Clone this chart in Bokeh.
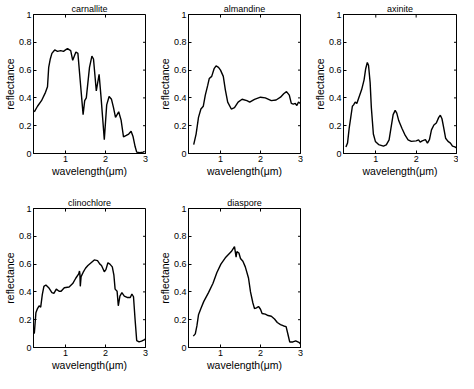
from bokeh.plotting import figure
from bokeh.models import Range1d, FixedTicker
from bokeh.layouts import column, row
from bokeh.embed import file_html
from bokeh.resources import INLINE

# ---- data ----
carnallite_wl = [0.22, 0.3, 0.4, 0.5, 0.55, 0.58, 0.62, 0.66, 0.73, 0.8, 0.88, 0.95, 1.0, 1.05, 1.1, 1.13,
                 1.18, 1.26, 1.31, 1.36, 1.44, 1.48, 1.52, 1.6, 1.66, 1.7, 1.77, 1.84, 1.89, 1.97, 2.03, 2.09,
                 2.15, 2.2, 2.25, 2.33, 2.39, 2.45, 2.52, 2.58, 2.64, 2.69, 2.74, 2.78, 2.86, 2.94, 2.98]
carnallite_refl = [0.30, 0.34, 0.38, 0.44, 0.48, 0.62, 0.68, 0.72, 0.745, 0.735, 0.74, 0.735, 0.745, 0.755, 0.745, 0.74,
                   0.67, 0.73, 0.72, 0.55, 0.28, 0.38, 0.40, 0.62, 0.70, 0.68, 0.45, 0.57, 0.40, 0.10, 0.35, 0.41,
                   0.39, 0.33, 0.26, 0.30, 0.24, 0.12, 0.13, 0.14, 0.16, 0.12, 0.05, 0.01, 0.005, 0.01, 0.015]

almandine_wl = [0.33, 0.39, 0.45, 0.51, 0.57, 0.62, 0.68, 0.72, 0.78, 0.84, 0.89, 0.95, 1.0, 1.07, 1.12, 1.18,
                1.27, 1.35, 1.44, 1.54, 1.66, 1.73, 1.85, 2.0, 2.12, 2.27, 2.39, 2.5, 2.58, 2.65, 2.72, 2.77,
                2.82, 2.87, 2.91, 2.95, 3.0]
almandine_refl = [0.064, 0.14, 0.26, 0.32, 0.34, 0.42, 0.49, 0.54, 0.555, 0.61, 0.63, 0.62, 0.60, 0.555, 0.46, 0.37,
                  0.32, 0.33, 0.37, 0.39, 0.38, 0.37, 0.39, 0.405, 0.40, 0.38, 0.385, 0.405, 0.43, 0.445, 0.42, 0.36,
                  0.355, 0.36, 0.345, 0.37, 0.36]

axinite_wl = [0.26, 0.30, 0.34, 0.38, 0.42, 0.45, 0.49, 0.53, 0.59, 0.65, 0.71, 0.75, 0.79, 0.82, 0.86, 0.89,
              0.94, 0.99, 1.07, 1.19, 1.26, 1.33, 1.38, 1.43, 1.48, 1.52, 1.57, 1.65, 1.73, 1.8, 1.88, 2.0,
              2.06, 2.1, 2.15, 2.23, 2.28, 2.33, 2.38, 2.44, 2.5, 2.56, 2.6, 2.64, 2.68, 2.73, 2.79, 2.85,
              2.9, 2.96, 3.0]
axinite_refl = [0.046, 0.075, 0.18, 0.26, 0.34, 0.35, 0.37, 0.36, 0.41, 0.46, 0.53, 0.61, 0.655, 0.635, 0.51, 0.33,
                0.14, 0.087, 0.064, 0.053, 0.062, 0.098, 0.19, 0.28, 0.31, 0.29, 0.235, 0.18, 0.13, 0.098, 0.087, 0.091,
                0.098, 0.082, 0.091, 0.10, 0.075, 0.10, 0.17, 0.205, 0.22, 0.26, 0.275, 0.25, 0.19, 0.11, 0.087, 0.075,
                0.053, 0.048, 0.04]

clinochlore_wl = [0.22, 0.26, 0.30, 0.34, 0.38, 0.42, 0.46, 0.51, 0.58, 0.66, 0.71, 0.77, 0.84, 0.89, 0.97, 1.09,
                  1.18, 1.26, 1.33, 1.35, 1.36, 1.37, 1.39, 1.44, 1.5, 1.56, 1.64, 1.72, 1.8, 1.86, 1.9, 1.94,
                  1.97, 2.01, 2.06, 2.11, 2.17, 2.21, 2.24, 2.29, 2.32, 2.36, 2.41, 2.47, 2.54, 2.62, 2.66, 2.7,
                  2.74, 2.78, 2.84, 2.9, 2.98, 3.0]
clinochlore_refl = [0.10, 0.25, 0.28, 0.30, 0.29, 0.38, 0.44, 0.45, 0.43, 0.395, 0.39, 0.42, 0.405, 0.405, 0.43, 0.435,
                    0.46, 0.50, 0.53, 0.55, 0.53, 0.44, 0.51, 0.54, 0.57, 0.59, 0.61, 0.63, 0.625, 0.60, 0.59, 0.565,
                    0.545, 0.56, 0.61, 0.60, 0.58, 0.52, 0.42, 0.405, 0.30, 0.37, 0.395, 0.37, 0.36, 0.36, 0.385, 0.365,
                    0.20, 0.05, 0.041, 0.046, 0.057, 0.064]

diaspore_wl = [0.32, 0.37, 0.41, 0.45, 0.51, 0.58, 0.7, 0.81, 0.91, 1.01, 1.12, 1.27, 1.35, 1.39, 1.41, 1.46,
               1.5, 1.56, 1.62, 1.7, 1.75, 1.81, 1.85, 1.9, 1.95, 2.0, 2.04, 2.12, 2.19, 2.27, 2.35, 2.42,
               2.5, 2.58, 2.64, 2.69, 2.73, 2.81, 2.88, 2.96, 3.0]
diaspore_refl = [0.082, 0.098, 0.155, 0.235, 0.28, 0.33, 0.395, 0.46, 0.54, 0.60, 0.645, 0.69, 0.725, 0.65, 0.69, 0.68,
                 0.64, 0.62, 0.58, 0.50, 0.40, 0.32, 0.28, 0.285, 0.295, 0.275, 0.245, 0.24, 0.23, 0.225, 0.205, 0.18,
                 0.165, 0.155, 0.15, 0.09, 0.04, 0.04, 0.048, 0.037, 0.025]

mineral_names = ["carnallite", "almandine", "axinite", "clinochlore", "diaspore"]
wavelengths = [carnallite_wl, almandine_wl, axinite_wl, clinochlore_wl, diaspore_wl]
reflectances = [carnallite_refl, almandine_refl, axinite_refl, clinochlore_refl, diaspore_refl]

x_ticks = [1, 2, 3]
y_ticks = [0, 0.2, 0.4, 0.6, 0.8, 1]
x_label = "wavelength(\u03bcm)"
y_label = "reflectance"
x_lim = (0.2, 3.0)
y_lim = (0.0, 1.0)

FONT = "Liberation Sans"


def make_panel(name, wl, refl, width, height, b_left, b_right, b_top, b_bottom):
    p = figure(width=width, height=height, output_backend="svg", toolbar_location=None,
               x_range=Range1d(*x_lim), y_range=Range1d(*y_lim),
               min_border_left=b_left, min_border_right=b_right,
               min_border_top=b_top, min_border_bottom=b_bottom,
               x_axis_label=x_label, y_axis_label=y_label)
    p.title.text = name
    p.title.align = "center"
    p.title.text_font = FONT
    p.title.text_font_size = "9px"
    p.title.text_font_style = "normal"
    p.title.text_color = "black"
    p.title.standoff = 2
    p.title.offset = 0
    p.xgrid.visible = False
    p.ygrid.visible = False
    p.outline_line_color = "black"
    p.outline_line_alpha = 1
    p.outline_line_width = 1
    p.background_fill_color = "white"
    p.border_fill_color = "white"

    p.xaxis.ticker = FixedTicker(ticks=x_ticks)
    p.yaxis.ticker = FixedTicker(ticks=y_ticks)
    p.yaxis.major_label_overrides = {0: "0", 1: "1"}
    for ax in p.axis:
        ax.major_tick_in = 3
        ax.major_tick_out = 0
        ax.minor_tick_line_color = None
        ax.axis_line_color = "black"
        ax.major_tick_line_color = "black"
        ax.major_label_text_font = FONT
        ax.major_label_text_font_size = "9px"
        ax.major_label_text_color = "black"
        ax.major_label_standoff = 2
        ax.axis_label_text_font = FONT
        ax.axis_label_text_font_size = "10.5px"
        ax.axis_label_text_font_style = "normal"
        ax.axis_label_text_color = "black"
        ax.axis_label_standoff = 0

    # mirrored tick marks on the top and right edges (matlab box style)
    tick_len_x = 0.022 * (x_lim[1] - x_lim[0])
    tick_len_y = 0.022 * (y_lim[1] - y_lim[0])
    p.segment(x0=[x_lim[1]] * len(y_ticks), y0=y_ticks,
              x1=[x_lim[1] - tick_len_x] * len(y_ticks), y1=y_ticks,
              line_color="black", line_width=1)
    p.segment(x0=x_ticks, y0=[y_lim[1]] * len(x_ticks),
              x1=x_ticks, y1=[y_lim[1] - tick_len_y] * len(x_ticks),
              line_color="black", line_width=1)

    p.line(wl, refl, line_color="black", line_width=1.4)
    return p


W = [155, 155, 148]
RB = [10, 10, 2]
H_TOP, H_BOT = 194, 179

panels = []
for i in range(5):
    col = i % 3
    top_row = i < 3
    h = H_TOP if top_row else H_BOT
    bb = 41 if top_row else 0
    panels.append(make_panel(mineral_names[i], wavelengths[i], reflectances[i],
                             W[col], h, 0, RB[col], 0, bb))

layout = column(row(panels[0], panels[1], panels[2]), row(panels[3], panels[4]))

open("out.html", "w").write(file_html(layout, INLINE))
